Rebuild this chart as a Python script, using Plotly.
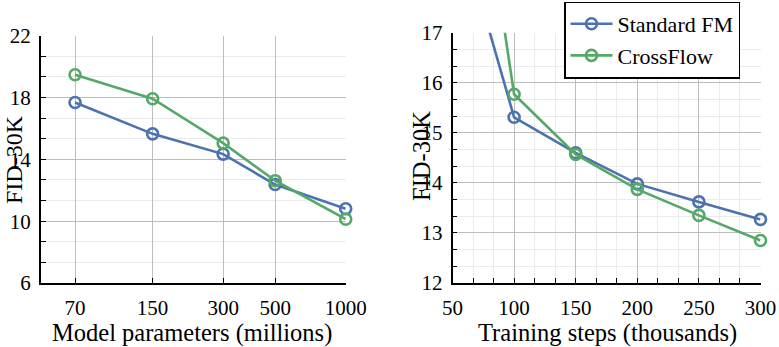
import plotly.graph_objects as go
import math

# Left panel: model size scaling
params_m = [70, 150, 300, 500, 1000]
fid_std_params = [17.68, 15.65, 14.34, 12.37, 10.8]
fid_cf_params = [19.47, 17.92, 15.05, 12.62, 10.13]

# Right panel: training steps
steps_k = [50, 100, 150, 200, 250, 300]
fid_std_steps = [19.6, 15.31, 14.6, 13.98, 13.62, 13.27]
fid_cf_steps = [24.0, 15.77, 14.57, 13.87, 13.35, 12.85]

series_names = ["Standard FM", "CrossFlow"]
colors = ["#4c72b0", "#55a868"]

left_yticks = [6, 10, 14, 18, 22]
right_yticks = [12, 13, 14, 15, 16, 17]
right_xticks = [50, 100, 150, 200, 250, 300]

W, H = 779, 347
FONT = "Liberation Serif, Times New Roman, Times, serif"

fig = go.Figure()

def add(x, y, name, color, xa, ya, show):
    fig.add_trace(go.Scatter(
        x=x, y=y, name=name, mode="lines+markers",
        line=dict(color=color, width=2.6),
        marker=dict(symbol="circle-open", size=11, color=color, line=dict(width=2.6, color=color)),
        xaxis=xa, yaxis=ya, showlegend=show, cliponaxis=False,
    ))

add(params_m, fid_std_params, series_names[0], colors[0], "x", "y", False)
add(params_m, fid_cf_params, series_names[1], colors[1], "x", "y", False)
add(steps_k, fid_std_steps, series_names[0], colors[0], "x2", "y2", True)
add(steps_k, fid_cf_steps, series_names[1], colors[1], "x2", "y2", True)

major = "#bdbdbd"
minor = "#ebebeb"
tickfont = dict(family=FONT, size=21, color="black")

common = dict(showline=True, linecolor="black", linewidth=1.5, mirror=False,
              gridcolor=major, gridwidth=1, zeroline=False, tickfont=tickfont,
              ticks="inside", ticklen=5, tickcolor="black", layer="below traces")

fig.update_layout(
    width=W, height=H,
    font=dict(family=FONT, color="black"),
    margin=dict(l=0, r=0, t=0, b=0, autoexpand=False),
    paper_bgcolor="white", plot_bgcolor="white",
    showlegend=True,
    xaxis=dict(domain=[40.8 / W, 345.7 / W], type="log",
               range=[math.log10(50), 3], tickvals=params_m,
               ticktext=[str(v) for v in params_m], anchor="y",
               ticklabelstandoff=5, **common),
    yaxis=dict(domain=[(H - 283) / H, (H - 35.7) / H], range=[6, 22],
               tickvals=left_yticks, anchor="x", ticklabelstandoff=4,
               minor=dict(dtick=4 / 3, tick0=6, showgrid=True, gridcolor=minor,
                          ticks="inside", ticklen=5, tickcolor="black"),
               **common),
    xaxis2=dict(domain=[452.5 / W, 760.5 / W], range=[50, 300],
                tickvals=right_xticks, anchor="y2", ticklabelstandoff=5,
                minor=dict(dtick=50 / 3, tick0=50, showgrid=True, gridcolor=minor,
                           ticks="inside", ticklen=5, tickcolor="black"),
                **common),
    yaxis2=dict(domain=[(H - 283) / H, (H - 32.7) / H], range=[12, 17],
                tickvals=right_yticks, anchor="x2", ticklabelstandoff=4,
                minor=dict(dtick=1 / 3, tick0=12, showgrid=True, gridcolor=minor,
                           ticks="inside", ticklen=5, tickcolor="black"),
                **common),
    legend=dict(x=564 / W, y=1 - 1.5 / H, xanchor="left", yanchor="top",
                bgcolor="white", bordercolor="black", borderwidth=1.5,
                font=dict(family=FONT, size=22, color="black"),
                itemwidth=42, tracegroupgap=0,
                entrywidth=176, entrywidthmode="pixels"),
)

title_font = dict(family=FONT, size=24.5, color="black")
fig.add_annotation(text="Model parameters (millions)", x=192 / W, y=(H - 333) / H,
                   xref="paper", yref="paper", showarrow=False, font=title_font,
                   xanchor="center", yanchor="middle")
fig.add_annotation(text="Training steps (thousands)", x=607.5 / W, y=(H - 333) / H,
                   xref="paper", yref="paper", showarrow=False, font=title_font,
                   xanchor="center", yanchor="middle")
fig.add_annotation(text="FID-30K", x=0, y=(H - 160) / H, textangle=-90,
                   xref="paper", yref="paper", showarrow=False,
                   font=dict(family=FONT, size=24, color="black"),
                   xanchor="left", yanchor="middle", borderpad=0)
fig.add_annotation(text="FID-30K", x=421 / W, y=(H - 156) / H, textangle=-90,
                   xref="paper", yref="paper", showarrow=False,
                   font=dict(family=FONT, size=24.5, color="black"),
                   xanchor="center", yanchor="middle")

fig.write_html("out.html", config={"displayModeBar": False},
               post_script="document.body.style.margin='0';document.body.style.padding='0';")
